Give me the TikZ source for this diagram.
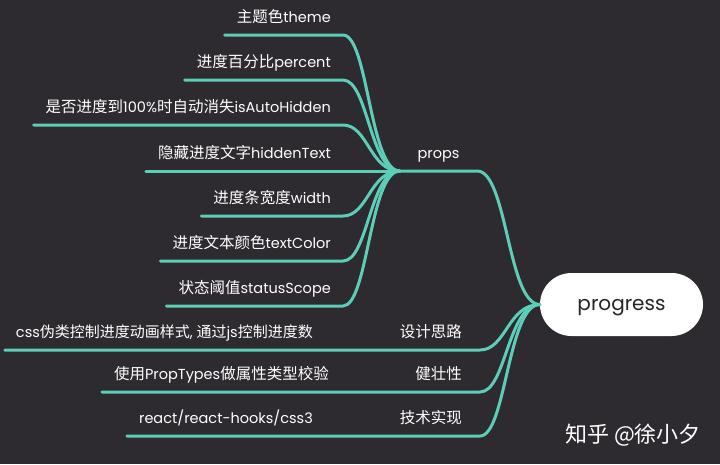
\documentclass[tikz,border=0pt]{standalone}
\usepackage{fontspec}
\setmainfont{Poppins}
\newfontfamily\cjk{Noto Sans CJK SC}
\newcommand{\zh}[1]{{\cjk\fontsize{15.5}{17}\selectfont #1}}
\newcommand{\zhs}[1]{{\cjk\fontsize{15}{17}\selectfont #1}}
\definecolor{bg}{HTML}{2D2A30}
\definecolor{branch}{HTML}{5CCDB7}
\begin{document}
\begin{tikzpicture}[x=1pt,y=-1pt,
  leaf/.style={text=white, font=\fontsize{14.5}{16}\selectfont, inner xsep=12pt, inner ysep=9pt,
    text height=11pt, text depth=3pt, anchor=south east},
  mid/.style={text=white, font=\fontsize{14.5}{16}\selectfont, inner xsep=0pt, inner ysep=9pt,
    text height=11pt, text depth=3pt, anchor=south},
  rootbox/.style={fill=white, rounded corners=31.5pt, minimum width=163pt, minimum height=63pt,
    font=\fontsize{20}{24}\selectfont, text=black!85, inner sep=0pt, text height=15pt, text depth=4pt},
  link/.style={draw=branch, line width=3pt, line cap=round}]
\useasboundingbox (0,0) rectangle (720,464);
\path[fill=bg] (0,0) rectangle (720,464);
% root
\node[rootbox] (root) at (621.5,304.5) {progress};
% props
\node[mid, minimum width=77pt] (props) at (438.5,171) {props};
\node[leaf] (p1) at (343,35) {\zh{主题色}theme};
\node[leaf] (p2) at (343,80) {\zh{进度百分比}percent};
\node[leaf] (p3) at (343,125) {\zh{是否进度到}100\%\zh{时自动消失}isAutoHidden};
\node[leaf] (p4) at (343,171) {\zh{隐藏进度文字}hiddenText};
\node[leaf] (p5) at (343,216) {\zh{进度条宽度}width};
\node[leaf] (p6) at (343,261) {\zh{进度文本颜色}textColor};
\node[leaf] (p7) at (343,306) {\zh{状态阈值}statusScope};
% main branches
\node[leaf, inner xsep=18pt] (d1) at (480,350) {\zh{设计思路}};
\node[leaf, inner xsep=18pt] (d2) at (480,392) {\zh{健壮性}};
\node[leaf, inner xsep=18pt] (d3) at (480,436) {\zh{技术实现}};
\node[leaf, inner xsep=11pt] (c1) at (324,350) {css\zhs{伪类控制进度动画样式}, \zhs{通过}js\zhs{控制进度数}};
\node[leaf] (c2) at (341,392) {\zh{使用}PropTypes\zh{做属性类型校验}};
\node[leaf] (c3) at (325,436) {react/react-hooks/css3};
% watermark
\node[font=\cjk\fontsize{22}{24}\selectfont, text=white] (wm) at (633,435) {知乎 @徐小夕};
% connectors
\foreach \n in {p1,p2,p3,p4,p5,p6,p7}{
  \draw[link] (\n.south west) -- (\n.south east) .. controls +(25,0) and +(-30,0) .. (props.south west);
}
\draw[link] (props.south west) -- (props.south east) .. controls +(30,0) and +(-32,0) .. (root.west);
\foreach \c/\d in {c1/d1,c2/d2,c3/d3}{
  \draw[link] (\c.south west) -- (\c.south east) -- (\d.south west) -- (\d.south east)
    .. controls +(26,0) and +(-32,0) .. (root.west);
}
\end{tikzpicture}
\end{document}
